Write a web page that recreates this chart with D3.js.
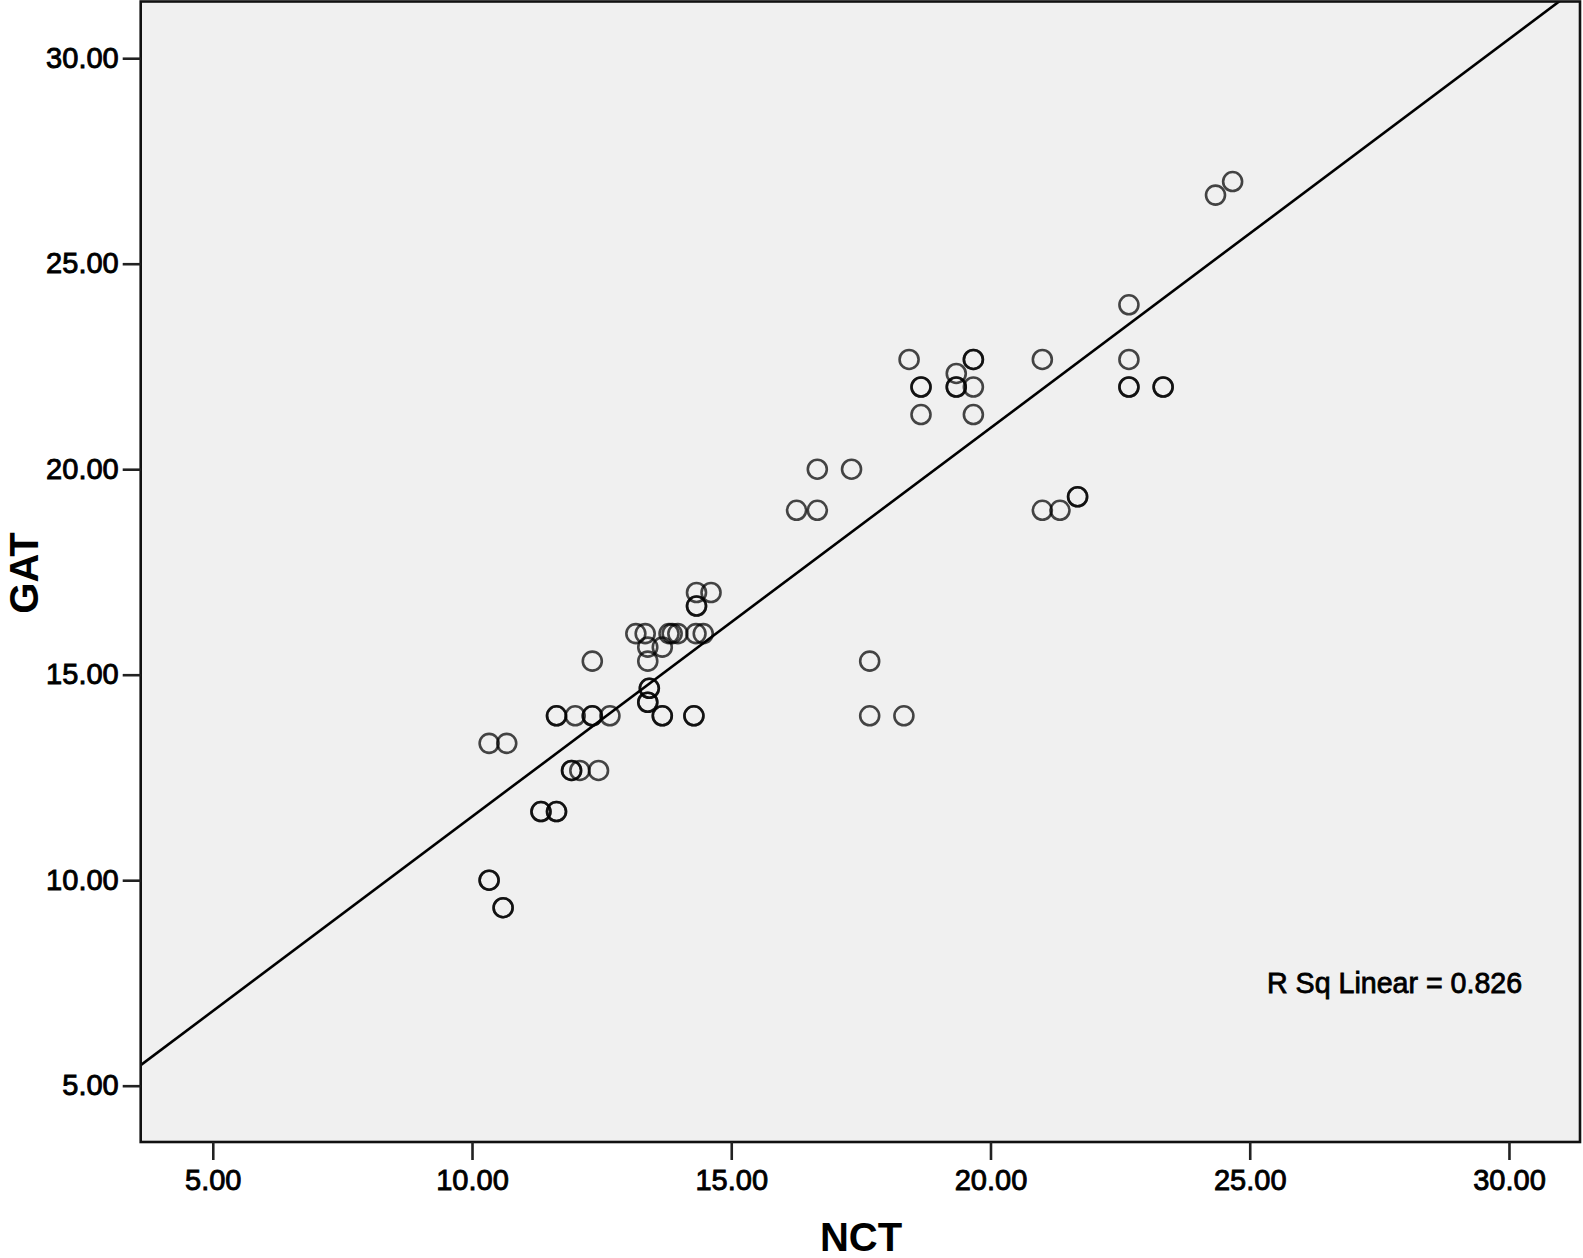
<!DOCTYPE html>
<html>
<head>
<meta charset="utf-8">
<script src="https://cdn.jsdelivr.net/npm/d3@7"></script>
<style>
  body { margin: 0; background: #fff; }
  svg { display: block; }
  text { font-family: "Liberation Sans", Arial, sans-serif; fill: #000; }
</style>
</head>
<body>
<svg id="chart" width="1583" height="1258"></svg>
<script>
// NCT / GAT pairs (overlapping points listed twice)
const nct = [
  10.33, 10.67, 10.33, 10.33, 10.6, 10.6, 11.33, 11.33, 11.63, 11.63,
  11.63, 11.63, 11.99, 12.32, 12.32, 12.66, 13.67, 13.67, 14.28, 14.28,
  11.92, 11.92, 12.08, 12.44, 12.32,
  13.16, 13.34, 13.8, 13.86, 13.97, 14.32, 14.46,
  13.39, 13.67, 13.39, 13.42, 13.42, 13.39, 13.39,
  14.33, 14.61, 14.33, 14.33,
  16.26, 16.66, 16.66, 17.32,
  17.67, 17.67, 18.33,
  18.43, 18.66, 18.66, 18.66,
  19.34, 19.34, 19.34, 19.67, 19.67, 19.67, 19.67,
  21.0, 21.0, 21.34, 21.68, 21.68,
  22.67, 22.67, 22.67, 22.67, 23.33, 23.33,
  24.34, 24.67
];
const gat = [
  13.33, 13.33, 10.0, 10.0, 9.33, 9.33, 11.67, 11.67, 11.67, 11.67,
  14.0, 14.0, 14.0, 14.0, 14.0, 14.0, 14.0, 14.0, 14.0, 14.0,
  12.67, 12.67, 12.67, 12.67, 15.33,
  16.0, 16.0, 16.0, 16.0, 16.0, 16.0, 16.0,
  15.67, 15.67, 15.33, 14.67, 14.67, 14.33, 14.33,
  17.0, 17.0, 16.67, 16.67,
  19.0, 19.0, 20.0, 20.0,
  15.33, 14.0, 14.0,
  22.67, 22.0, 22.0, 21.33,
  22.33, 22.0, 22.0, 22.67, 22.67, 22.0, 21.33,
  22.67, 19.0, 19.0, 19.33, 19.33,
  24.0, 22.67, 22.0, 22.0, 22.0, 22.0,
  26.67, 27.0
];

const xTicks = [5, 10, 15, 20, 25, 30];
const yTicks = [5, 10, 15, 20, 25, 30];
const fitIntercept = 2.085;
const fitSlope = 0.946;
const rSqLabel = "R Sq Linear = 0.826";

const points = nct.map((v, i) => ({x: v, y: gat[i]}));

const svg = d3.select("#chart");
const plot = {left: 140.7, right: 1580, top: 1.5, bottom: 1142};

const x = d3.scaleLinear().domain([3.61, 31.37]).range([plot.left, plot.right]);
const y = d3.scaleLinear().domain([3.63, 31.38]).range([plot.bottom, plot.top]);

svg.append("defs").append("clipPath").attr("id", "clip")
  .append("rect")
    .attr("x", plot.left).attr("y", plot.top)
    .attr("width", plot.right - plot.left).attr("height", plot.bottom - plot.top);

svg.append("rect")
    .attr("x", plot.left).attr("y", plot.top)
    .attr("width", plot.right - plot.left).attr("height", plot.bottom - plot.top)
    .attr("fill", "#f0f0f0");

// points
svg.append("g")
    .attr("clip-path", "url(#clip)")
  .selectAll("circle")
  .data(points)
  .join("circle")
    .attr("cx", d => x(d.x))
    .attr("cy", d => y(d.y))
    .attr("r", 9.5)
    .attr("fill", "none")
    .attr("stroke", "#000")
    .attr("stroke-opacity", 0.72)
    .attr("stroke-width", 2.6);

// fit line
const [x0, x1] = x.domain();
svg.append("line")
    .attr("clip-path", "url(#clip)")
    .attr("x1", x(x0)).attr("y1", y(fitIntercept + fitSlope * x0))
    .attr("x2", x(x1)).attr("y2", y(fitIntercept + fitSlope * x1))
    .attr("stroke", "#000")
    .attr("stroke-width", 2.6);

// frame
svg.append("rect")
    .attr("x", plot.left).attr("y", plot.top)
    .attr("width", plot.right - plot.left).attr("height", plot.bottom - plot.top)
    .attr("fill", "none")
    .attr("stroke", "#111")
    .attr("stroke-width", 2.6);

function styleAxis(g) {
  g.select(".domain").remove();
  g.selectAll(".tick line").attr("stroke", "#222").attr("stroke-width", 2.6);
  g.selectAll(".tick text")
    .attr("font-size", 29)
    .attr("fill", "#000")
    .attr("stroke", "#000")
    .attr("stroke-width", 0.9)
    .attr("font-family", "'Liberation Sans', Arial, sans-serif");
}

svg.append("g")
    .attr("transform", `translate(0,${plot.bottom})`)
    .call(d3.axisBottom(x).tickValues(xTicks).tickFormat(d3.format(".2f"))
      .tickSize(18).tickPadding(9))
    .call(styleAxis);

svg.append("g")
    .attr("transform", `translate(${plot.left},0)`)
    .call(d3.axisLeft(y).tickValues(yTicks).tickFormat(d3.format(".2f"))
      .tickSize(18).tickPadding(4))
    .call(styleAxis);

// axis titles
svg.append("text")
    .attr("x", 861).attr("y", 1251)
    .attr("text-anchor", "middle")
    .attr("font-size", 40)
    .attr("font-weight", "bold")
    .text("NCT");

svg.append("text")
    .attr("transform", "translate(38,573) rotate(-90)")
    .attr("text-anchor", "middle")
    .attr("font-size", 40)
    .attr("font-weight", "bold")
    .text("GAT");

svg.append("text")
    .attr("x", 1267).attr("y", 993)
    .attr("font-size", 28.6)
    .attr("stroke", "#000")
    .attr("stroke-width", 0.8)
    .text(rSqLabel);
</script>
</body>
</html>
